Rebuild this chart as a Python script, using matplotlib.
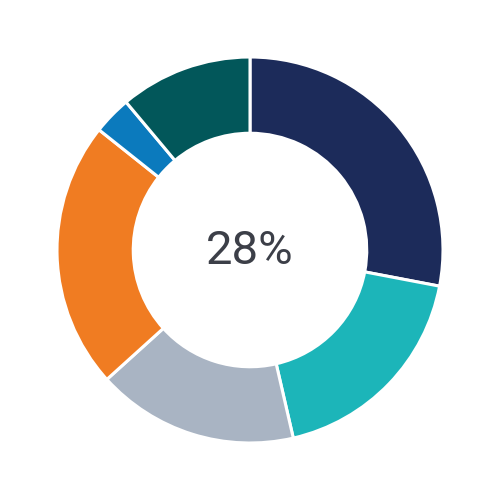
import matplotlib
matplotlib.use("Agg")
import matplotlib.pyplot as plt

labels = ["A", "B", "C", "D", "E", "F"]
values = [28, 18.4, 16.9, 22.4, 3.2, 11.1]
colors = ["#1c2b5a", "#1cb5b9", "#a9b4c3", "#f07c22", "#0b7abd", "#02575a"]
center_text = "28%"

fig = plt.figure(figsize=(5, 5), dpi=100)
ax = fig.add_axes([0, 0, 1, 1])
ax.pie(values, colors=colors, startangle=90, counterclock=False, radius=1.0,
       wedgeprops=dict(width=0.395, edgecolor="white", linewidth=2.2))
lim = 250 / 193
ax.set_xlim(-lim, lim)
ax.set_ylim(-lim, lim)
ax.set_aspect("equal")
ax.axis("off")
ax.text(0, -0.005, center_text, ha="center", va="center", fontsize=34,
        color="#3c3f48", family="Roboto", fontweight="normal")
fig.savefig("out.png", dpi=100, facecolor="white")
